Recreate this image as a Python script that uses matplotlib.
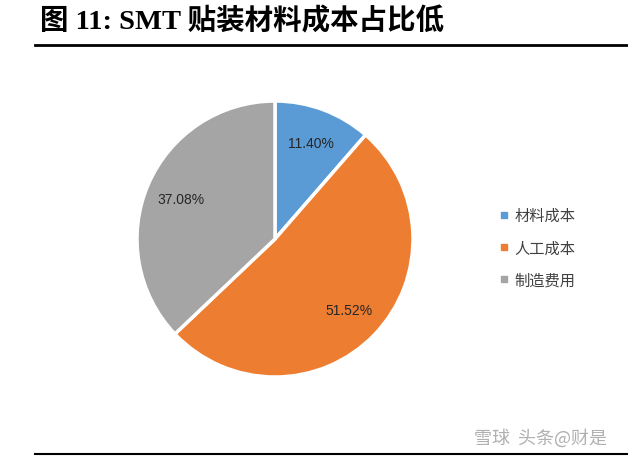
import matplotlib.pyplot as plt
from matplotlib.lines import Line2D

labels = ['材料成本', '人工成本', '制造费用']
shares = [11.40, 51.52, 37.08]
colors = ['#5B9BD5', '#ED7D31', '#A5A5A5']

W, H = 628, 460
fig = plt.figure(figsize=(W / 100, H / 100), dpi=100)

# title and rules
fig.text(40 / W, 1 - 21 / H, '图 11: SMT 贴装材料成本占比低', fontsize=20.5, fontweight='bold',
         family=['Liberation Serif', 'Noto Sans CJK SC'], va='center', ha='left')
fig.add_artist(Line2D([35 / W, 1], [1 - 46 / H] * 2, color='black', lw=2))
fig.add_artist(Line2D([35 / W, 1], [1 - 455 / H] * 2, color='black', lw=1.5))

# pie, radius ~138 px centred at (275, 240)
cx, cy, r = 275, 240, 138
ax = fig.add_axes([(cx - r) / W, (H - cy - r) / H, 2 * r / W, 2 * r / H])
wedges, texts, autotexts = ax.pie(
    shares, colors=colors, startangle=90, counterclock=False,
    autopct=lambda p: '%.2f%%' % p, pctdistance=0.74,
    wedgeprops=dict(edgecolor='white', linewidth=2.5),
    textprops=dict(fontsize=10, family='Liberation Sans', color='#262626'))
ax.set_xlim(-1.0, 1.0)
ax.set_ylim(-1.0, 1.0)
ax.set_aspect('equal')
ax.axis('off')

# legend
handles = [Line2D([], [], marker='s', ls='', color=c, markersize=4) for c in colors]
fig.legend(handles, labels, loc='center left', bbox_to_anchor=(484 / W, 1 - 249 / H),
           frameon=False, labelspacing=1.0, handletextpad=0.3, handlelength=0.8,
           prop=dict(family='Noto Sans CJK SC', size=11), labelcolor='#404040')

# watermark
fig.text(474 / W, 1 - 438 / H, '雪球  头条@财是', fontsize=13, color='#b0b0b0',
         family='Noto Sans CJK SC', va='center', ha='left')

fig.savefig('out.png', dpi=100)
